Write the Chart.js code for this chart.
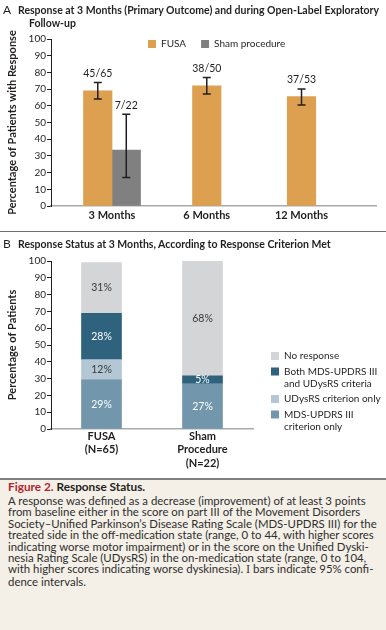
<!DOCTYPE html>
<html>
<head>
<meta charset="utf-8">
<script src="https://cdn.jsdelivr.net/npm/chart.js@4"></script>
<style>
  body { margin: 0; width: 386px; height: 630px; position: relative; overflow: hidden; background: #fff; font-family: Lato, sans-serif; color: #231f20; }
  .abs { position: absolute; white-space: nowrap; }
  .letter { font-size: 12px; line-height: 14px; }
  .ttl { font-size: 10.5px; line-height: 14px; font-weight: bold; }
  canvas { position: absolute; left: 0; }
  .sep { position: absolute; left: 0; width: 386px; }
  #caption { position: absolute; left: 0; top: 480px; width: 386px; height: 150px; background: #f4f0e8; }
  #caption .head { position: absolute; left: 8px; top: 0px; font-size: 11.8px; line-height: 14px; font-weight: bold; white-space: nowrap; }
  #caption .head span { color: #b0262f; }
  #caption .body { position: absolute; left: 8px; top: 15px; font-size: 11.4px; line-height: 11.4px; color: #2e2e2e; white-space: nowrap; }
  .serif { font-family: "DejaVu Serif", serif; font-size: 10.5px; }
</style>
</head>
<body>
<canvas id="chartA" width="386" height="228" style="top:0"></canvas>
<canvas id="chartB" width="386" height="246" style="top:232px"></canvas>

<div class="abs letter" style="left:3px;top:3px">A</div>
<div class="abs ttl" style="left:18px;top:3px">Response at 3 Months (Primary Outcome) and during Open-Label Exploratory</div>
<div class="abs ttl" style="left:29px;top:16px">Follow-up</div>
<div class="sep" style="top:231px;height:1px;background:#6d6e71"></div>
<div class="abs letter" style="left:3px;top:237px">B</div>
<div class="abs ttl" style="left:18px;top:237px">Response Status at 3 Months, According to Response Criterion Met</div>
<div class="sep" style="top:478px;height:2px;background:#808080"></div>

<div id="caption">
  <div class="head"><span>Figure 2.</span> Response Status.</div>
  <div class="body">
    A response was defined as a decrease (improvement) of at least 3 points<br>
    from baseline either in the score on part III of the Movement Disorders<br>
    Society–Unified Parkinson’s Disease Rating Scale (MDS-UPDRS III) for the<br>
    treated side in the off-medication state (range, 0 to 44, with higher scores<br>
    indicating worse motor impairment) or in the score on the Unified Dyski-<br>
    nesia Rating Scale (UDysRS) in the on-medication state (range, 0 to 104,<br>
    with higher scores indicating worse dyskinesia). <span class="serif">I</span> bars indicate 95% confi-<br>
    dence intervals.
  </div>
</div>

<script>
// ----------------------- DATA -----------------------
// Panel A
const months = ["3 Months", "6 Months", "12 Months"];
const fusaPct = [69, 72, 65.5];
const fusaLow = [64, 67, 60.5];
const fusaHigh = [74, 77, 70];
const fusaCounts = ["45/65", "38/50", "37/53"];
const shamPct = [33.5, null, null];
const shamLow = [17, null, null];
const shamHigh = [55, null, null];
const shamCounts = ["7/22", null, null];
const yTitleA = "Percentage of Patients with Response";

// Panel B
const groups = [["FUSA", "(N=65)"], ["Sham", "Procedure", "(N=22)"]];
const mdsOnly = [29.2, 26.8];
const udysOnly = [12.1, 0];
const bothCrit = [27.6, 4.9];
const noResp = [30.1, 68.4];
const mdsLbl = ["29%", "27%"];
const udysLbl = ["12%", null];
const bothLbl = ["28%", "5%"];
const noLbl = ["31%", "68%"];
const yTitleB = "Percentage of Patients";

// ----------------------- UTIL -----------------------
const ink = "#231f20";
Chart.defaults.font.family = "Lato";
Chart.defaults.color = ink;

// I bars + count labels above them
const errorBars = {
  id: "errorBars",
  afterDatasetsDraw(chart) {
    const { ctx, scales: { y } } = chart;
    ctx.save();
    ctx.strokeStyle = ink;
    ctx.fillStyle = ink;
    ctx.lineWidth = 1.5;
    ctx.font = "10.5px Lato";
    ctx.textAlign = "center";
    ctx.textBaseline = "middle";
    chart.data.datasets.forEach((ds, di) => {
      const meta = chart.getDatasetMeta(di);
      meta.data.forEach((bar, i) => {
        if (ds.errLow[i] == null) return;
        const yl = y.getPixelForValue(ds.errLow[i]);
        const yh = y.getPixelForValue(ds.errHigh[i]);
        ctx.beginPath();
        ctx.moveTo(bar.x, yl); ctx.lineTo(bar.x, yh);
        ctx.moveTo(bar.x - 4, yl); ctx.lineTo(bar.x + 4, yl);
        ctx.moveTo(bar.x - 4, yh); ctx.lineTo(bar.x + 4, yh);
        ctx.stroke();
        ctx.fillText(ds.counts[i], bar.x, yh - 9);
      });
    });
    ctx.restore();
  },
};

// percent labels inside stacked segments
const segLabels = {
  id: "segLabels",
  afterDatasetsDraw(chart) {
    const ctx = chart.ctx;
    ctx.save();
    ctx.font = "10.5px Lato";
    ctx.textAlign = "center";
    ctx.textBaseline = "middle";
    chart.data.datasets.forEach((ds, di) => {
      chart.getDatasetMeta(di).data.forEach((bar, i) => {
        if (!ds.valueLabels[i]) return;
        ctx.fillStyle = ds.labelColor;
        ctx.fillText(ds.valueLabels[i], bar.x, (bar.y + bar.base) / 2);
      });
    });
    ctx.restore();
  },
};

// simple legend drawn at a fixed spot
const legendAt = {
  id: "legendAt",
  afterDraw(chart, args, opts) {
    const ctx = chart.ctx;
    const box = 8;
    let x = opts.x, y = opts.y;
    let items = chart.data.datasets.map((d) => d);
    if (opts.reverse) items = items.reverse();
    ctx.save();
    ctx.font = opts.fontSize + "px Lato";
    ctx.textBaseline = "middle";
    ctx.textAlign = "left";
    items.forEach((ds) => {
      const lines = ds.label.split("\n");
      ctx.fillStyle = ds.backgroundColor;
      ctx.fillRect(x, y - box / 2, box, box);
      ctx.fillStyle = ink;
      lines.forEach((l, k) => ctx.fillText(l, x + box + 5, y + k * opts.lineH));
      if (opts.horizontal) {
        x += box + 5 + ctx.measureText(lines[0]).width + 15;
      } else {
        y += lines.length * opts.lineH + opts.gap;
      }
    });
    ctx.restore();
  },
};

function yAxis(title) {
  return {
    min: 0,
    max: 100,
    ticks: { stepSize: 10, font: { size: 10 }, color: ink, padding: 1 },
    grid: { drawOnChartArea: false, tickLength: 4, color: ink, lineWidth: 1 },
    border: { color: ink, width: 1 },
    title: { display: true, text: title, font: { size: 11, weight: "bold" }, color: ink, padding: { top: 6, bottom: 0 } },
    afterFit: (s) => { s.width = 51; },
  };
}

// ----------------------- PANEL A -----------------------
new Chart(document.getElementById("chartA"), {
  type: "bar",
  data: {
    datasets: [
      {
        label: "FUSA",
        data: months.map((m, i) => ({ x: i, y: fusaPct[i] })),
        backgroundColor: "#dca050",
        barThickness: 28.5,
        skipNull: true,
        errLow: fusaLow, errHigh: fusaHigh, counts: fusaCounts,
      },
      {
        label: "Sham procedure",
        data: months.map((m, i) => ({ x: i, y: shamPct[i] })),
        backgroundColor: "#808080",
        barThickness: 28.5,
        skipNull: true,
        errLow: shamLow, errHigh: shamHigh, counts: shamCounts,
      },
    ],
  },
  options: {
    responsive: false,
    animation: false,
    layout: { padding: { top: 39, right: 10, left: 0, bottom: 0 } },
    plugins: {
      legend: { display: false },
      tooltip: { enabled: false },
      legendAt: { x: 148, y: 44, fontSize: 10, horizontal: true, lineH: 12, gap: 0 },
    },
    scales: {
      x: {
        type: "linear",
        min: -0.644,
        max: 2.786,
        offset: false,
        grid: { display: false, drawTicks: false, offset: false },
        border: { color: "#a7a9ac", width: 1.5 },
        afterBuildTicks: (s) => { s.ticks = months.map((m, i) => ({ value: i })); },
        ticks: { callback: (v) => months[v], font: { size: 11, weight: "bold" }, color: ink, padding: 3, autoSkip: false, maxRotation: 0 },
        afterFit: (s) => { s.height = 22; },
      },
      y: yAxis(yTitleA),
    },
  },
  plugins: [errorBars, legendAt],
});

// ----------------------- PANEL B -----------------------
new Chart(document.getElementById("chartB"), {
  type: "bar",
  data: {
    labels: groups,
    datasets: [
      { label: "MDS-UPDRS III\ncriterion only", data: mdsOnly, backgroundColor: "#7296ac", valueLabels: mdsLbl, labelColor: "#ffffff" },
      { label: "UDysRS criterion only", data: udysOnly, backgroundColor: "#b3c7d4", valueLabels: udysLbl, labelColor: "#3a3a3a" },
      { label: "Both MDS-UPDRS III\nand UDysRS criteria", data: bothCrit, backgroundColor: "#2e627d", valueLabels: bothLbl, labelColor: "#ffffff" },
      { label: "No response", data: noResp, backgroundColor: "#d4d5d7", valueLabels: noLbl, labelColor: "#3a3a3a" },
    ],
  },
  options: {
    responsive: false,
    animation: false,
    datasets: { bar: { barThickness: 40 } },
    layout: { padding: { top: 29, right: 133, left: 0, bottom: 0 } },
    plugins: {
      legend: { display: false },
      tooltip: { enabled: false },
      legendAt: { x: 271, y: 124, fontSize: 10, horizontal: false, reverse: true, lineH: 12, gap: 3.5 },
    },
    scales: {
      x: {
        stacked: true,
        grid: { display: false, drawTicks: false },
        border: { color: "#a7a9ac", width: 1.5 },
        ticks: { font: { size: 11, weight: "bold", lineHeight: 1.2 }, color: ink, padding: 1, autoSkip: false, maxRotation: 0 },
        afterFit: (s) => { s.height = 49; },
      },
      y: Object.assign(yAxis(yTitleB), { stacked: true }),
    },
  },
  plugins: [segLabels, legendAt],
});
</script>
</body>
</html>
